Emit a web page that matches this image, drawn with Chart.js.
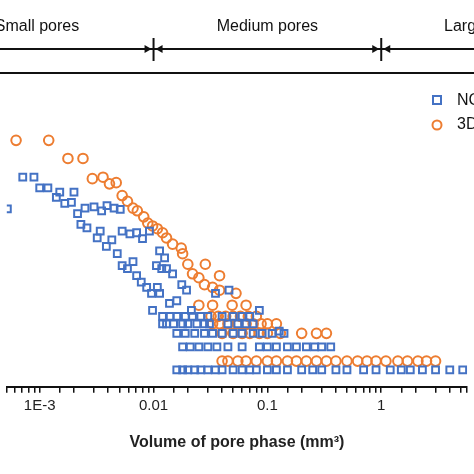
<!DOCTYPE html>
<html>
<head>
<meta charset="utf-8">
<script src="https://cdn.jsdelivr.net/npm/chart.js@4"></script>
<style>
  body { margin: 0; background: #fff; overflow: hidden; }
  #wrap { width: 474px; height: 474px; }
</style>
</head>
<body>
<div id="wrap"><canvas id="c"></canvas></div>
<script>
// volume (mm3) and count
const blueX = [4.5e-4, 5.2e-4, 7.1e-4, 8.9e-4, 1e-3, 1.18e-3, 1.4e-3, 1.5e-3, 1.66e-3, 1.9e-3, 2e-3, 2.15e-3, 2.5e-3, 3e-3, 3.5e-3, 3.9e-3, 4.5e-3, 5.1e-3,
  2.3e-3, 2.6e-3, 3.2e-3, 3.4e-3, 3.85e-3, 4.3e-3, 4.8e-3, 5.3e-3, 6.2e-3, 7.1e-3, 8e-3, 9.2e-3,
  5.3e-3, 5.9e-3, 6.6e-3, 7.1e-3, 7.8e-3, 8.7e-3, 9.6e-3, 1.06e-2, 1.13e-2, 1.25e-2, 1.18e-2, 1.3e-2, 1.47e-2,
  1.08e-2, 1.13e-2, 1.38e-2, 1.6e-2, 1.77e-2, 1.95e-2, 2.15e-2, 9.8e-3, 3.5e-2, 4.6e-2, 8.5e-2, 0.127,
  0.012, 0.014, 0.016, 0.019, 0.022, 0.026, 0.03, 0.04, 0.05, 0.06, 0.07,
  0.012, 0.013, 0.015, 0.018, 0.02, 0.024, 0.028, 0.031, 0.045, 0.055, 0.065, 0.075,
  0.016, 0.019, 0.023, 0.028, 0.033, 0.04, 0.05, 0.06, 0.075, 0.09, 0.11, 0.14,
  0.018, 0.021, 0.025, 0.03, 0.036, 0.045, 0.06, 0.085, 0.1, 0.12, 0.15, 0.18, 0.22, 0.26, 0.3, 0.36,
  0.016, 0.018, 0.02, 0.023, 0.026, 0.03, 0.035, 0.04, 0.05, 0.06, 0.07, 0.08, 0.1, 0.12, 0.15, 0.2, 0.25, 0.3, 0.4, 0.5, 0.7, 0.9, 1.2, 1.5, 1.8, 2.3, 3, 4, 5.2];
const blueY = [380, 127, 330, 330, 240, 240, 180, 210, 150, 155, 210, 110, 130, 135, 120, 140, 130, 125,
  80, 72, 53, 65, 41, 50, 33, 65, 60, 62, 52, 65,
  23, 21, 26, 17, 14, 12, 10, 23, 36, 29, 21, 21, 18,
  12, 10, 7.4, 8, 13, 11, 6, 6, 10, 11, 6, 3.2,
  5, 5, 5, 5, 5, 5, 5, 5, 5, 5, 5,
  4, 4, 4, 4, 4, 4, 4, 4, 4, 4, 4, 4,
  3, 3, 3, 3, 3, 3, 3, 3, 3, 3, 3, 3,
  2, 2, 2, 2, 2, 2, 2, 2, 2, 2, 2, 2, 2, 2, 2, 2,
  1, 1, 1, 1, 1, 1, 1, 1, 1, 1, 1, 1, 1, 1, 1, 1, 1, 1, 1, 1, 1, 1, 1, 1, 1, 1, 1, 1, 1];

const orangeX = [6.2e-4, 1.2e-3, 1.77e-3, 2.4e-3, 2.9e-3, 3.6e-3, 4.1e-3, 4.7e-3, 5.3e-3, 5.9e-3, 6.6e-3, 7.2e-3, 8.2e-3, 8.9e-3, 9.8e-3,
  1.08e-2, 1.2e-2, 1.3e-2, 1.47e-2, 1.75e-2, 1.8e-2, 2e-2, 2.85e-2, 2.2e-2, 2.5e-2, 3.8e-2, 2.8e-2, 3.3e-2, 3.8e-2, 5.3e-2,
  0.025, 0.033, 0.049, 0.065,
  0.032, 0.037, 0.043, 0.05, 0.058, 0.068, 0.08,
  0.033, 0.038, 0.045, 0.055, 0.065, 0.075, 0.088, 0.1, 0.12,
  0.04, 0.05, 0.06, 0.07, 0.085, 0.1, 0.13, 0.2, 0.27, 0.33,
  0.04, 0.045, 0.055, 0.065, 0.08, 0.1, 0.12, 0.15, 0.18, 0.22, 0.27, 0.33, 0.4, 0.5, 0.62, 0.75, 0.9, 1.1, 1.4, 1.7, 2.1, 2.5, 3];
const orangeY = [1000, 1000, 580, 580, 316, 330, 270, 280, 190, 160, 130, 120, 100, 83, 76,
  70, 62, 53, 44, 39, 33, 24, 24, 18, 16, 17, 13, 12, 11, 10,
  7, 7, 7, 7,
  5, 5, 5, 5, 5, 5, 5,
  4, 4, 4, 4, 4, 4, 4, 4, 4,
  3, 3, 3, 3, 3, 3, 3, 3, 3, 3,
  1.3, 1.3, 1.3, 1.3, 1.3, 1.3, 1.3, 1.3, 1.3, 1.3, 1.3, 1.3, 1.3, 1.3, 1.3, 1.3, 1.3, 1.3, 1.3, 1.3, 1.3, 1.3, 1.3];

const tickLabels = { '-3': '1E-3', '-2': '0.01', '-1': '0.1', '0': '1', '1': '10' };
const zones = ['Small pores', 'Medium pores', 'Large pores'];
const zoneEdges = [0.01, 1];
const legendNames = ['NC', '3D'];

const toPts = (xs, ys) => xs.map((x, i) => ({ x, y: ys[i] }));

// Top bar with pore classes, frame line, legend
const deco = {
  id: 'deco',
  afterDraw(chart) {
    const ctx = chart.ctx, xs = chart.scales.x, a = chart.chartArea;
    ctx.save();
    ctx.strokeStyle = '#111';
    ctx.fillStyle = '#111';
    ctx.lineWidth = 2;
    ctx.beginPath(); ctx.moveTo(0, 49); ctx.lineTo(474, 49); ctx.stroke();
    ctx.beginPath(); ctx.moveTo(0, a.top); ctx.lineTo(474, a.top); ctx.stroke();
    zoneEdges.forEach(v => {
      const px = xs.getPixelForValue(v);
      ctx.beginPath(); ctx.moveTo(px, 38); ctx.lineTo(px, 61); ctx.stroke();
      [-1, 1].forEach(s => {
        ctx.beginPath();
        ctx.moveTo(px + s * 2, 49);
        ctx.lineTo(px + s * 9, 45);
        ctx.lineTo(px + s * 9, 53);
        ctx.fill();
      });
    });
    ctx.font = '16px Arial, "Liberation Sans"';
    ctx.textBaseline = 'middle';
    ctx.textAlign = 'center';
    ctx.fillText(zones[0], 37, 27);
    ctx.fillText(zones[1], xs.getPixelForValue(0.1), 27);
    ctx.textAlign = 'left';
    ctx.fillText(zones[2], 444, 27);
    // legend
    ctx.lineWidth = 2;
    ctx.strokeStyle = '#4472C4';
    ctx.strokeRect(433, 96, 8, 8);
    ctx.strokeStyle = '#ED7D31';
    ctx.beginPath(); ctx.arc(437, 125, 4.5, 0, Math.PI * 2); ctx.stroke();
    ctx.fillStyle = '#111';
    ctx.fillText(legendNames[0], 457, 101);
    ctx.fillText(legendNames[1], 457, 125);
    ctx.restore();
  }
};

new Chart(document.getElementById('c'), {
  type: 'scatter',
  data: {
    datasets: [
      { label: legendNames[0], data: toPts(blueX, blueY), pointStyle: 'rect', pointRadius: 4.8,
        borderColor: '#4472C4', backgroundColor: 'rgba(0,0,0,0)', borderWidth: 2 },
      { label: legendNames[1], data: toPts(orangeX, orangeY), pointStyle: 'circle', pointRadius: 4.8,
        borderColor: '#ED7D31', backgroundColor: 'rgba(0,0,0,0)', borderWidth: 2 }
    ]
  },
  options: {
    responsive: true,
    maintainAspectRatio: false,
    animation: false,
    layout: { padding: { top: 73, left: 0, right: 0, bottom: 22 } },
    plugins: { legend: { display: false }, tooltip: { enabled: false } },
    scales: {
      x: {
        type: 'logarithmic',
        min: 5.14e-4, max: 5.69,
        grid: { drawOnChartArea: false, tickLength: 6, color: '#111', lineWidth: 1.5 },
        border: { color: '#111', width: 2 },
        ticks: {
          autoSkip: false, maxRotation: 0, padding: 4, color: '#222',
          font: { size: 15, family: 'Arial, "Liberation Sans"' },
          callback: (v) => {
            const l = Math.log10(v);
            return Math.abs(l - Math.round(l)) < 1e-6 ? (tickLabels[Math.round(l)] || '') : '';
          }
        },
        title: {
          display: true, text: 'Volume of pore phase (mm³)', color: '#222',
          font: { size: 16, weight: 'bold', family: 'Arial, "Liberation Sans"' },
          padding: { top: 14, bottom: 0 }
        }
      },
      y: { type: 'logarithmic', min: 0.6, max: 7600, display: false }
    }
  },
  plugins: [deco]
});
</script>
</body>
</html>
